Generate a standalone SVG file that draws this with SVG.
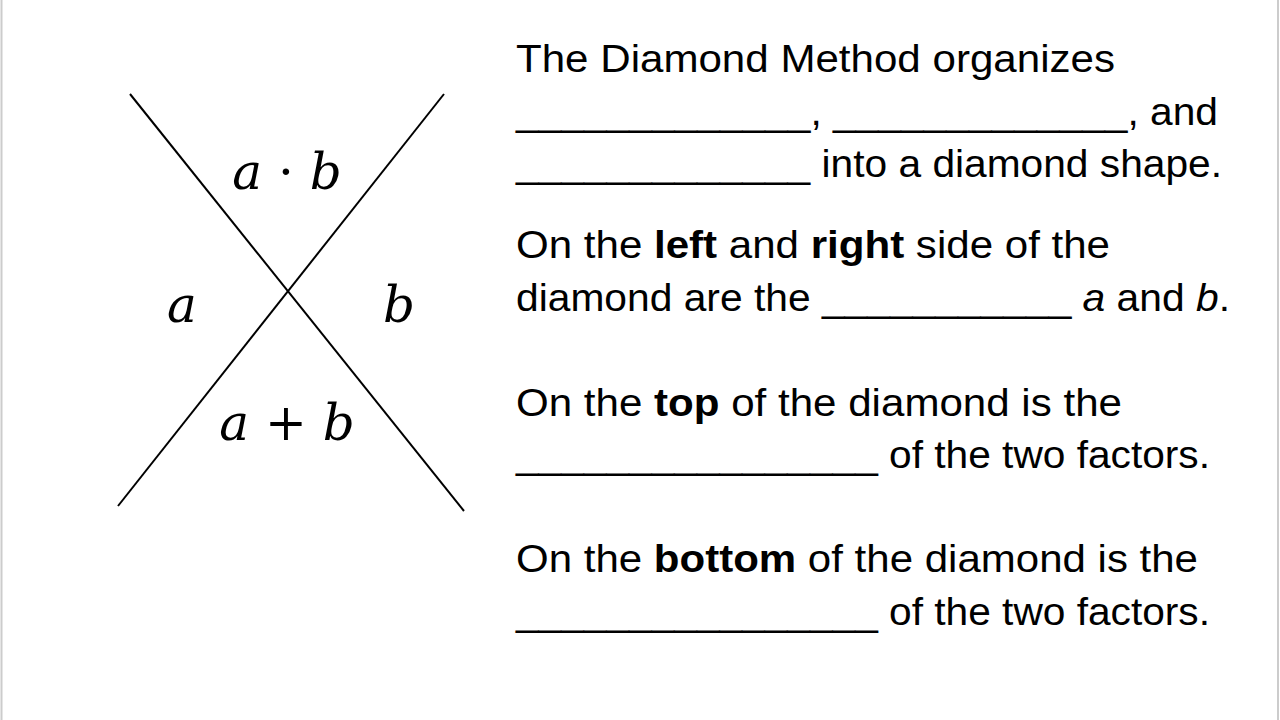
<svg xmlns="http://www.w3.org/2000/svg" width="1280" height="720" viewBox="0 0 1280 720">
<style>
.t{font-family:"Liberation Sans",Arial,sans-serif;font-size:38px;fill:#000}
.m{font-family:"DejaVu Serif","Liberation Serif",serif;font-style:italic;font-size:50px;fill:#000}
.up{font-style:normal}
.l{stroke:#000;stroke-width:2;fill:none}
</style>
<rect width="1280" height="720" fill="#fff"/>
<line x1="1.5" y1="0" x2="1.5" y2="720" stroke="#ccc" stroke-width="2"/>
<line x1="1278" y1="0" x2="1278" y2="720" stroke="#ccc" stroke-width="2"/>
<g id="connectors">
<line class="l" x1="130" y1="94" x2="464" y2="511"/>
<line class="l" x1="444" y1="94" x2="118" y2="506"/>
</g>
<g id="top"><text class="m" x="287" y="189" text-anchor="middle">a <tspan class="up">·</tspan> b</text></g>
<g id="left"><text class="m" x="182" y="322" text-anchor="middle">a</text></g>
<g id="right"><text class="m" x="399" y="322" text-anchor="middle">b</text></g>
<g id="bottom"><text class="m" x="287" y="440" text-anchor="middle">a <tspan class="up">+</tspan> b</text></g>
<g id="text">
<text class="t" x="516" y="72" textLength="599" lengthAdjust="spacingAndGlyphs">The Diamond Method organizes</text>
<text class="t" x="516" y="125" textLength="702" lengthAdjust="spacingAndGlyphs">_____________, _____________, and</text>
<text class="t" x="516" y="177" textLength="706" lengthAdjust="spacingAndGlyphs">_____________ into a diamond shape.</text>
<text class="t" x="516" y="258" textLength="594" lengthAdjust="spacingAndGlyphs">On the <tspan font-weight="bold">left</tspan> and <tspan font-weight="bold">right</tspan> side of the</text>
<text class="t" x="516" y="311" textLength="714" lengthAdjust="spacingAndGlyphs">diamond are the ___________ <tspan font-style="italic">a</tspan> and <tspan font-style="italic">b</tspan>.</text>
<text class="t" x="516" y="416" textLength="606" lengthAdjust="spacingAndGlyphs">On the <tspan font-weight="bold">top</tspan> of the diamond is the</text>
<text class="t" x="516" y="468" textLength="694" lengthAdjust="spacingAndGlyphs">________________ of the two factors.</text>
<text class="t" x="516" y="572" textLength="682" lengthAdjust="spacingAndGlyphs">On the <tspan font-weight="bold">bottom</tspan> of the diamond is the</text>
<text class="t" x="516" y="625" textLength="694" lengthAdjust="spacingAndGlyphs">________________ of the two factors.</text>
</g>
</svg>
